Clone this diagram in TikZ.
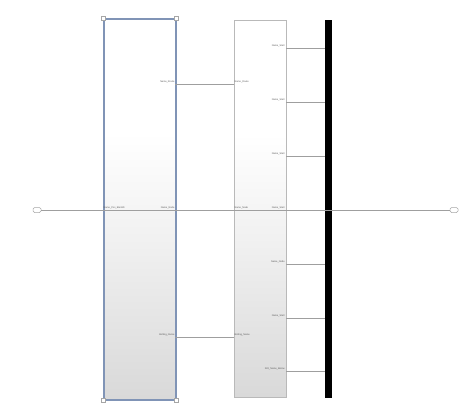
\documentclass[tikz,border=0pt]{standalone}
\usepackage{fontspec}
\setmainfont{Liberation Sans}
\pgfdeclareverticalshading{boxshade}{100bp}{color(0bp)=(gray!30); color(25bp)=(gray!30); color(45bp)=(gray!12); color(60bp)=(white); color(100bp)=(white)}
\begin{document}
\begin{tikzpicture}[x=1pt,y=-1pt,
  box/.style={shading=boxshade, inner sep=0pt, anchor=north west},
  leftbox/.style={box, draw={rgb,255:red,128;green,148;blue,182}, line width=1.6pt},
  midbox/.style={box, draw=gray!55, line width=0.7pt},
  handle/.style={draw=gray!70, fill=white, line width=0.5pt, minimum size=4pt, inner sep=0pt},
  endcap/.style={draw=gray!70, fill=white, line width=0.5pt, rounded corners=1.5pt, minimum width=8pt, minimum height=5pt, inner sep=0pt},
  wire/.style={draw=gray!75, line width=0.6pt},
  lbl/.style={font=\fontsize{2.4}{2.8}\selectfont, text=gray!70!black, inner sep=0.4pt}
]
\useasboundingbox (0,0) rectangle (474,409);
% boxes
\node[leftbox, minimum width=72pt, minimum height=381pt] (L) at (103,18) {};
\node[midbox, minimum width=52pt, minimum height=377pt] (M) at (234,20) {};
\node[fill=black, inner sep=0pt, anchor=north west, minimum width=7pt, minimum height=378pt] (B) at (325,20) {};
% handles
\node[handle] (h1) at (L.north west) {};
\node[handle] (h2) at (L.north east) {};
\node[handle] (h3) at (L.south west) {};
\node[handle] (h4) at (L.south east) {};
% main line
\node[endcap] (e1) at (37,210) {};
\node[endcap] (e2) at (454,210) {};
\draw[wire] (e1) -- (e2);
% connectors left box -> middle box
\coordinate (r1a) at (175,84);  \coordinate (r1b) at (234,84);
\coordinate (r3a) at (175,337); \coordinate (r3b) at (234,337);
\draw[wire] (r1a) -- (r1b);
\draw[wire] (r3a) -- (r3b);
\node[lbl, anchor=south east] (t1) at (r1a) {Name\_Route};
\node[lbl, anchor=south west] (t2) at (r1b) {Name\_Route};
\node[lbl, anchor=south east] (t5) at (r3a) {Bolting\_Name};
\node[lbl, anchor=south west] (t6) at (r3b) {Bolting\_Name};
\coordinate (r2a) at (103,210); \coordinate (r2b) at (175,210); \coordinate (r2c) at (234,210);
\node[lbl, anchor=south west] (t0) at (r2a) {Name\_Pos\_ElemID};
\node[lbl, anchor=south east] (t3) at (r2b) {Name\_Node};
\node[lbl, anchor=south west] (t4) at (r2c) {Name\_Node};
% ticks middle box -> bar
\foreach \y/\t [count=\i] in {48/Name\_Start, 102/Name\_Start, 156/Name\_Start, 210/Name\_Start, 264/Name\_Node, 318/Name\_Start, 371/SID\_Name\_Below}{
  \coordinate (ka\i) at (286,\y);
  \coordinate (kb\i) at (325,\y);
  \draw[wire] (ka\i) -- (kb\i);
  \node[lbl, anchor=south east] (kt\i) at ([xshift=-0.8pt]ka\i) {\t};
}
\end{tikzpicture}
\end{document}
